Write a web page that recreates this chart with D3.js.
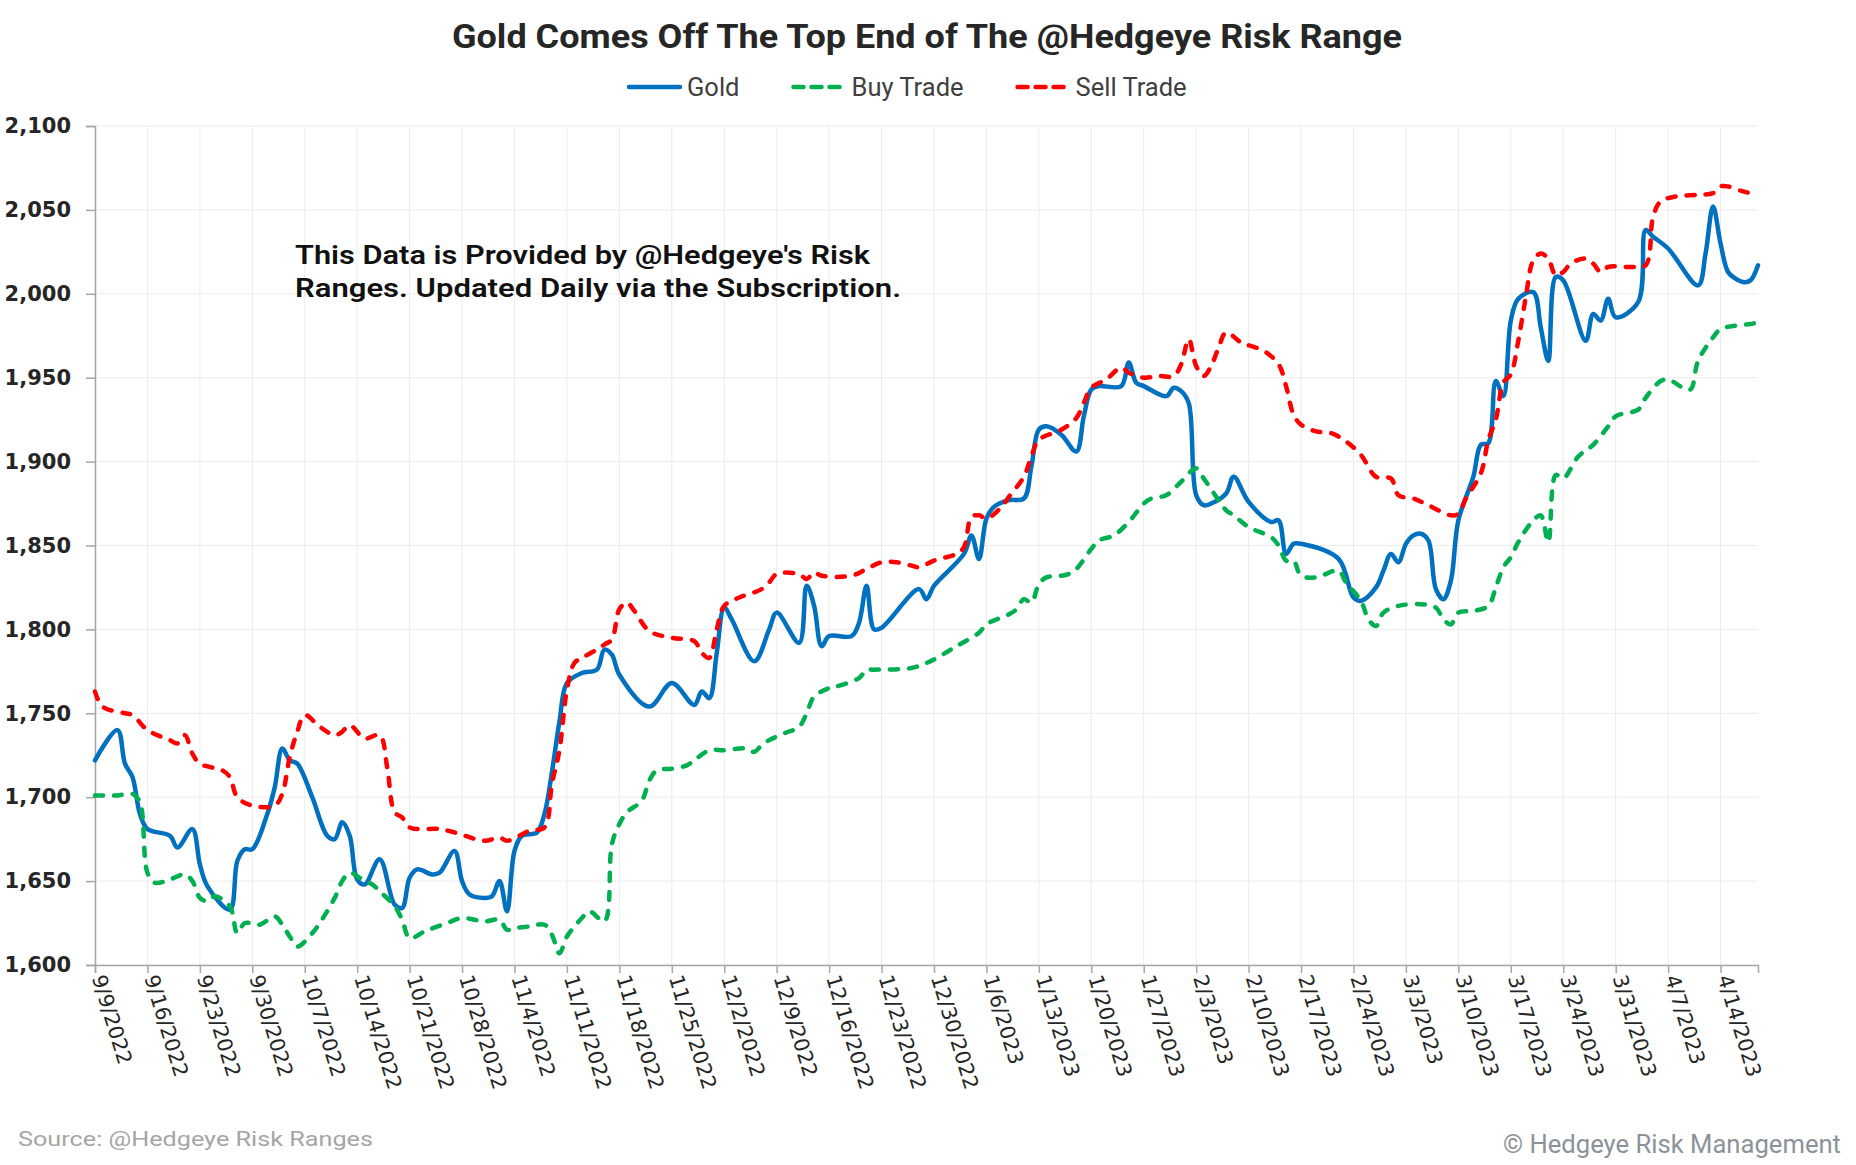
<!DOCTYPE html>
<html>
<head>
<meta charset="utf-8">
<title>Gold Comes Off The Top End of The @Hedgeye Risk Range</title>
<script src="https://cdnjs.cloudflare.com/ajax/libs/d3/7.8.5/d3.min.js"></script>
<style>
    body { margin: 0; background: #fff; }
    svg text { font-family: Roboto, "Noto Sans", sans-serif; }
    .axis-label { font-family: "DejaVu Sans", sans-serif; fill: #262626; }
</style>
</head>
<body>
<div id="chart-area"></div>
<script>

// --- data ---
var tickLabels = ["9/9/2022","9/16/2022","9/23/2022","9/30/2022","10/7/2022","10/14/2022","10/21/2022","10/28/2022",
    "11/4/2022","11/11/2022","11/18/2022","11/25/2022","12/2/2022","12/9/2022","12/16/2022","12/23/2022","12/30/2022",
    "1/6/2023","1/13/2023","1/20/2023","1/27/2023","2/3/2023","2/10/2023","2/17/2023","2/24/2023","3/3/2023",
    "3/10/2023","3/17/2023","3/24/2023","3/31/2023","4/7/2023","4/14/2023"];
var dateRange = ["9/9/2022", "4/19/2023"];
var yTicks = [1600, 1650, 1700, 1750, 1800, 1850, 1900, 1950, 2000, 2050, 2100];

var goldDates = ["9/9/2022","9/12/2022","9/13/2022","9/14/2022","9/15/2022","9/16/2022","9/19/2022","9/20/2022","9/22/2022","9/23/2022",
    "9/24/2022","9/27/2022","9/28/2022","9/29/2022","9/30/2022","10/2/2022","10/3/2022","10/4/2022","10/5/2022","10/6/2022",
    "10/8/2022","10/10/2022","10/11/2022","10/12/2022","10/13/2022","10/14/2022","10/15/2022","10/17/2022","10/19/2022","10/20/2022",
    "10/21/2022","10/22/2022","10/24/2022","10/25/2022","10/27/2022","10/28/2022","10/29/2022","10/31/2022","11/1/2022","11/2/2022",
    "11/3/2022","11/4/2022","11/5/2022","11/7/2022","11/8/2022","11/9/2022","11/10/2022","11/11/2022","11/13/2022","11/15/2022",
    "11/16/2022","11/17/2022","11/18/2022","11/22/2022","11/25/2022","11/28/2022","11/29/2022","11/30/2022","12/1/2022","12/2/2022",
    "12/3/2022","12/6/2022","12/8/2022","12/9/2022","12/12/2022","12/13/2022","12/14/2022","12/15/2022","12/16/2022","12/19/2022",
    "12/20/2022","12/21/2022","12/22/2022","12/23/2022","12/28/2022","12/29/2022","12/30/2022","1/3/2023","1/4/2023","1/5/2023",
    "1/6/2023","1/7/2023","1/9/2023","1/11/2023","1/12/2023","1/13/2023","1/14/2023","1/16/2023","1/18/2023","1/19/2023",
    "1/20/2023","1/21/2023","1/24/2023","1/25/2023","1/26/2023","1/27/2023","1/30/2023","1/31/2023","2/1/2023","2/2/2023",
    "2/3/2023","2/4/2023","2/5/2023","2/7/2023","2/8/2023","2/10/2023","2/13/2023","2/14/2023","2/15/2023","2/16/2023",
    "2/17/2023","2/22/2023","2/24/2023","2/25/2023","2/27/2023","2/28/2023","3/1/2023","3/2/2023","3/3/2023","3/4/2023",
    "3/5/2023","3/6/2023","3/7/2023","3/8/2023","3/9/2023","3/10/2023","3/12/2023","3/13/2023","3/14/2023","3/15/2023",
    "3/16/2023","3/17/2023","3/18/2023","3/20/2023","3/21/2023","3/22/2023","3/23/2023","3/24/2023","3/27/2023","3/28/2023",
    "3/29/2023","3/30/2023","3/31/2023","4/3/2023","4/4/2023","4/5/2023","4/7/2023","4/11/2023","4/12/2023","4/13/2023",
    "4/14/2023","4/15/2023","4/16/2023","4/17/2023","4/18/2023","4/19/2023"];
var goldValues = [1722,1740,1720,1712,1690,1681,1677,1670,1681,1660,
    1647,1633,1662,1669,1669,1690,1706,1729,1722,1720,
    1700,1677,1675,1685,1677,1651,1648,1663,1636,1634,
    1652,1657,1654,1655,1668,1650,1642,1640,1641,1650,
    1632,1668,1677,1679,1690,1715,1745,1768,1774,1776,
    1788,1785,1773,1754,1768,1755,1763,1759,1786,1813,
    1806,1781,1800,1810,1792,1826,1814,1790,1796,1796,
    1804,1826,1800,1801,1824,1818,1826,1845,1856,1842,
    1866,1873,1877,1878,1897,1919,1921,1916,1906,1927,
    1943,1945,1945,1959,1947,1945,1939,1944,1942,1935,
    1880,1874,1875,1881,1891,1876,1864,1865,1845,1851,
    1851,1842,1819,1817,1825,1835,1845,1840,1851,1856,
    1857,1853,1824,1818,1829,1865,1891,1910,1911,1948,
    1939,1984,1997,2001,1980,1960,2010,2008,1972,1988,
    1984,1997,1986,1995,2038,2034,2027,2005,2024,2052,
    2030,2013,2009,2007,2008,2017];

var buyDates = ["9/9/2022","9/11/2022","9/12/2022","9/14/2022","9/15/2022","9/16/2022","9/17/2022","9/19/2022","9/21/2022","9/22/2022",
    "9/23/2022","9/24/2022","9/25/2022","9/27/2022","9/28/2022","9/29/2022","10/1/2022","10/3/2022","10/4/2022","10/5/2022",
    "10/6/2022","10/8/2022","10/9/2022","10/11/2022","10/12/2022","10/13/2022","10/15/2022","10/16/2022","10/17/2022","10/19/2022",
    "10/20/2022","10/21/2022","10/23/2022","10/26/2022","10/28/2022","10/31/2022","11/2/2022","11/3/2022","11/4/2022","11/6/2022",
    "11/8/2022","11/9/2022","11/10/2022","11/11/2022","11/13/2022","11/14/2022","11/16/2022","11/17/2022","11/18/2022","11/19/2022",
    "11/21/2022","11/22/2022","11/23/2022","11/25/2022","11/27/2022","11/28/2022","11/30/2022","12/2/2022","12/5/2022","12/6/2022",
    "12/7/2022","12/8/2022","12/10/2022","12/12/2022","12/13/2022","12/14/2022","12/16/2022","12/17/2022","12/20/2022","12/21/2022",
    "12/22/2022","12/27/2022","12/29/2022","12/30/2022","1/2/2023","1/5/2023","1/6/2023","1/9/2023","1/10/2023","1/11/2023",
    "1/12/2023","1/13/2023","1/14/2023","1/16/2023","1/17/2023","1/18/2023","1/20/2023","1/21/2023","1/23/2023","1/25/2023",
    "1/27/2023","1/28/2023","1/30/2023","2/1/2023","2/3/2023","2/4/2023","2/6/2023","2/7/2023","2/8/2023","2/10/2023",
    "2/13/2023","2/14/2023","2/15/2023","2/16/2023","2/17/2023","2/19/2023","2/22/2023","2/23/2023","2/25/2023","2/26/2023",
    "2/27/2023","2/28/2023","3/2/2023","3/5/2023","3/7/2023","3/8/2023","3/9/2023","3/10/2023","3/12/2023","3/14/2023",
    "3/15/2023","3/16/2023","3/17/2023","3/18/2023","3/20/2023","3/21/2023","3/22/2023","3/23/2023","3/24/2023","3/26/2023",
    "3/28/2023","3/30/2023","3/31/2023","4/3/2023","4/4/2023","4/6/2023","4/7/2023","4/9/2023","4/10/2023","4/11/2023",
    "4/13/2023","4/14/2023","4/16/2023","4/18/2023","4/19/2023"];
var buyValues = [1701,1701,1701,1702,1697,1655,1649,1651,1654,1650,
    1640,1638,1641,1635,1619,1625,1624,1629,1624,1617,
    1611,1619,1625,1640,1650,1655,1650,1648,1644,1635,
    1627,1616,1620,1625,1628,1626,1627,1621,1622,1623,
    1624,1618,1607,1617,1628,1632,1626,1672,1684,1691,
    1698,1710,1716,1717,1719,1722,1728,1728,1729,1727,
    1731,1734,1738,1742,1750,1760,1765,1766,1771,1776,
    1776,1777,1780,1782,1790,1798,1803,1809,1812,1818,
    1816,1827,1831,1832,1833,1836,1848,1853,1856,1864,
    1875,1878,1880,1888,1896,1890,1877,1871,1868,1861,
    1855,1850,1841,1841,1832,1831,1835,1828,1817,1806,
    1802,1810,1814,1815,1813,1806,1803,1810,1811,1814,
    1825,1837,1843,1852,1865,1868,1852,1892,1890,1903,
    1910,1921,1927,1931,1938,1948,1949,1944,1943,1960,
    1974,1979,1981,1982,1983];

var sellDates = ["9/9/2022","9/10/2022","9/13/2022","9/14/2022","9/16/2022","9/19/2022","9/20/2022","9/21/2022","9/22/2022","9/23/2022",
    "9/26/2022","9/27/2022","9/28/2022","9/30/2022","10/3/2022","10/4/2022","10/5/2022","10/6/2022","10/7/2022","10/9/2022",
    "10/11/2022","10/12/2022","10/13/2022","10/15/2022","10/17/2022","10/18/2022","10/19/2022","10/20/2022","10/21/2022","10/25/2022",
    "10/27/2022","10/31/2022","11/2/2022","11/3/2022","11/6/2022","11/8/2022","11/9/2022","11/10/2022","11/11/2022","11/12/2022",
    "11/13/2022","11/15/2022","11/16/2022","11/17/2022","11/18/2022","11/19/2022","11/20/2022","11/22/2022","11/25/2022","11/28/2022",
    "11/29/2022","11/30/2022","12/1/2022","12/2/2022","12/4/2022","12/7/2022","12/8/2022","12/9/2022","12/12/2022","12/13/2022",
    "12/14/2022","12/15/2022","12/19/2022","12/21/2022","12/23/2022","12/25/2022","12/27/2022","12/28/2022","12/30/2022","1/2/2023",
    "1/3/2023","1/4/2023","1/5/2023","1/6/2023","1/8/2023","1/9/2023","1/11/2023","1/12/2023","1/13/2023","1/16/2023",
    "1/18/2023","1/19/2023","1/20/2023","1/22/2023","1/24/2023","1/25/2023","1/27/2023","1/29/2023","1/31/2023","2/1/2023",
    "2/2/2023","2/3/2023","2/4/2023","2/5/2023","2/6/2023","2/7/2023","2/9/2023","2/12/2023","2/14/2023","2/15/2023",
    "2/16/2023","2/17/2023","2/19/2023","2/21/2023","2/23/2023","2/25/2023","2/27/2023","3/1/2023","3/2/2023","3/4/2023",
    "3/6/2023","3/9/2023","3/10/2023","3/11/2023","3/13/2023","3/14/2023","3/15/2023","3/16/2023","3/17/2023","3/18/2023",
    "3/19/2023","3/20/2023","3/21/2023","3/22/2023","3/23/2023","3/24/2023","3/25/2023","3/27/2023","3/28/2023","3/29/2023",
    "3/30/2023","4/2/2023","4/4/2023","4/5/2023","4/6/2023","4/8/2023","4/11/2023","4/13/2023","4/14/2023","4/15/2023",
    "4/17/2023","4/19/2023"];
var sellValues = [1763,1754,1750,1749,1740,1734,1732,1737,1726,1720,
    1716,1712,1700,1695,1695,1702,1724,1739,1749,1742,
    1737,1739,1743,1735,1737,1718,1691,1688,1682,1681,
    1679,1674,1676,1674,1680,1682,1708,1728,1764,1780,
    1783,1788,1791,1794,1812,1816,1811,1799,1795,1793,
    1786,1783,1800,1814,1819,1824,1828,1833,1833,1830,
    1834,1832,1832,1836,1840,1840,1838,1837,1841,1845,
    1849,1867,1868,1866,1873,1879,1891,1903,1913,1919,
    1926,1935,1944,1949,1956,1953,1950,1951,1951,1958,
    1973,1957,1951,1957,1968,1977,1971,1966,1958,1945,
    1928,1922,1918,1917,1912,1904,1891,1890,1880,1878,
    1874,1868,1869,1878,1893,1913,1925,1947,1952,1972,
    1998,2020,2024,2021,2011,2013,2018,2021,2018,2013,
    2016,2016,2017,2046,2055,2058,2059,2060,2064,2064,
    2061,2059];

var seriesNames = ["Gold", "Buy Trade", "Sell Trade"];
var seriesColors = ["#0070C0", "#00B050", "#FF0000"];

/*
 * LineChart - Object constructor function
 * @param _parentElement    -- the HTML element in which to draw the visualization
 */
LineChart = function(_parentElement) {
    this.parentElement = _parentElement;
    this.initVis();
}

LineChart.prototype.initVis = function() {
    var vis = this;
    vis.margin = {top: 126, right: 98, bottom: 200, left: 95};
    vis.width = 1856 - vis.margin.left - vis.margin.right;
    vis.height = 1165 - vis.margin.top - vis.margin.bottom;

    vis.root = d3.select("#" + vis.parentElement).append("svg")
        .attr("width", 1856)
        .attr("height", 1165);

    vis.svg = vis.root.append("g")
        .attr("transform", "translate(" + vis.margin.left + "," + vis.margin.top + ")");

    vis.parseDate = d3.timeParse("%m/%d/%Y");

    vis.x = d3.scaleTime()
        .domain(dateRange.map(vis.parseDate))
        .range([0, vis.width]);
    vis.y = d3.scaleLinear()
        .domain([d3.min(yTicks), d3.max(yTicks)])
        .range([vis.height, 0]);

    vis.tickDates = tickLabels.map(vis.parseDate);

    vis.wrangleData();
}

LineChart.prototype.wrangleData = function() {
    var vis = this;
    function zip(dates, values) {
        return dates.map(function(d, i) {
            return {date: vis.parseDate(d), value: values[i]};
        });
    }
    vis.displayData = [
        {name: seriesNames[0], color: seriesColors[0], dash: null, values: zip(goldDates, goldValues)},
        {name: seriesNames[1], color: seriesColors[1], dash: "8 11", values: zip(buyDates, buyValues)},
        {name: seriesNames[2], color: seriesColors[2], dash: "8 11", values: zip(sellDates, sellValues)}
    ];
    vis.updateVis();
}

LineChart.prototype.updateVis = function() {
    var vis = this;

    // gridlines
    vis.svg.append("g").selectAll("line.hgrid")
        .data(yTicks)
        .enter().append("line")
        .attr("x1", 0).attr("x2", vis.width)
        .attr("y1", function(d) { return vis.y(d); })
        .attr("y2", function(d) { return vis.y(d); })
        .attr("stroke", "#ececec").attr("stroke-width", 1);
    vis.svg.append("g").selectAll("line.vgrid")
        .data(vis.tickDates)
        .enter().append("line")
        .attr("x1", function(d) { return vis.x(d); })
        .attr("x2", function(d) { return vis.x(d); })
        .attr("y1", 0).attr("y2", vis.height)
        .attr("stroke", "#ececec").attr("stroke-width", 1);

    // axes
    var yAxis = d3.axisLeft(vis.y)
        .tickValues(yTicks)
        .tickFormat(d3.format(","))
        .tickSize(9)
        .tickPadding(15);
    var yg = vis.svg.append("g").call(yAxis);
    yg.selectAll("text")
        .attr("class", "axis-label")
        .style("font-size", "21px")
        .style("font-weight", "bold");

    var xAxis = d3.axisBottom(vis.x)
        .tickValues(vis.tickDates)
        .tickFormat(function(d, i) { return tickLabels[i]; })
        .tickSize(8);
    var xg = vis.svg.append("g")
        .attr("transform", "translate(0," + vis.height + ")")
        .call(xAxis);
    xg.selectAll("text")
        .attr("class", "axis-label")
        .style("font-size", "20.5px")
        .style("text-anchor", "start")
        .attr("x", 11).attr("y", 0).attr("dy", "0.35em")
        .attr("transform", "rotate(73)");

    vis.root.selectAll(".domain, .tick line")
        .attr("stroke", "#a6a6a6")
        .attr("stroke-width", 1.5);
    vis.root.selectAll(".tick text").attr("fill", "#262626");

    // series
    var line = d3.line()
        .x(function(d) { return vis.x(d.date); })
        .y(function(d) { return vis.y(d.value); })
        .curve(d3.curveCatmullRom.alpha(0.5));

    vis.svg.append("g").selectAll("path.series")
        .data(vis.displayData)
        .enter().append("path")
        .attr("class", "series")
        .attr("d", function(d) { return line(d.values); })
        .attr("fill", "none")
        .attr("stroke", function(d) { return d.color; })
        .attr("stroke-width", 4.5)
        .attr("stroke-linecap", "round")
        .attr("stroke-linejoin", "round")
        .attr("stroke-dasharray", function(d) { return d.dash; });

    // title
    vis.root.append("text")
        .attr("x", 927).attr("y", 48)
        .attr("text-anchor", "middle")
        .attr("textLength", 950)
        .attr("lengthAdjust", "spacingAndGlyphs")
        .style("font-size", "33px")
        .style("font-weight", "bold")
        .attr("fill", "#262626")
        .text("Gold Comes Off The Top End of The @Hedgeye Risk Range");

    // legend
    var lx = 627;
    vis.displayData.forEach(function(s) {
        var g = vis.root.append("g").attr("transform", "translate(" + lx + ",87)");
        g.append("line")
            .attr("x1", 2).attr("x2", 53)
            .attr("stroke", s.color).attr("stroke-width", 4.5)
            .attr("stroke-linecap", "round")
            .attr("stroke-dasharray", s.dash ? "10 8" : null);
        var t = g.append("text")
            .attr("x", 60).attr("dy", "0.35em")
            .style("font-size", "25.5px")
            .attr("fill", "#404040")
            .text(s.name);
        lx += 60 + t.node().getComputedTextLength() + 52;
    });

    // annotation
    var note = vis.root.append("g").style("font-size", "25px").style("font-weight", 600).attr("fill", "#111");
    note.append("text").attr("x", 295).attr("y", 264)
        .attr("textLength", 575).attr("lengthAdjust", "spacingAndGlyphs")
        .text("This Data is Provided by @Hedgeye's Risk");
    note.append("text").attr("x", 295).attr("y", 297)
        .attr("textLength", 606).attr("lengthAdjust", "spacingAndGlyphs")
        .text("Ranges. Updated Daily via the Subscription.");

    // footers
    vis.root.append("text")
        .attr("x", 18).attr("y", 1146)
        .attr("textLength", 355).attr("lengthAdjust", "spacingAndGlyphs")
        .style("font-size", "21px")
        .attr("fill", "#a5a5a5")
        .text("Source: @Hedgeye Risk Ranges");
    vis.root.append("text")
        .attr("x", 1841).attr("y", 1153)
        .attr("text-anchor", "end")
        .attr("textLength", 338).attr("lengthAdjust", "spacingAndGlyphs")
        .style("font-size", "25px")
        .attr("fill", "#8c9299")
        .text("\u00a9 Hedgeye Risk Management");
}

new LineChart("chart-area");
</script>
</body>
</html>
